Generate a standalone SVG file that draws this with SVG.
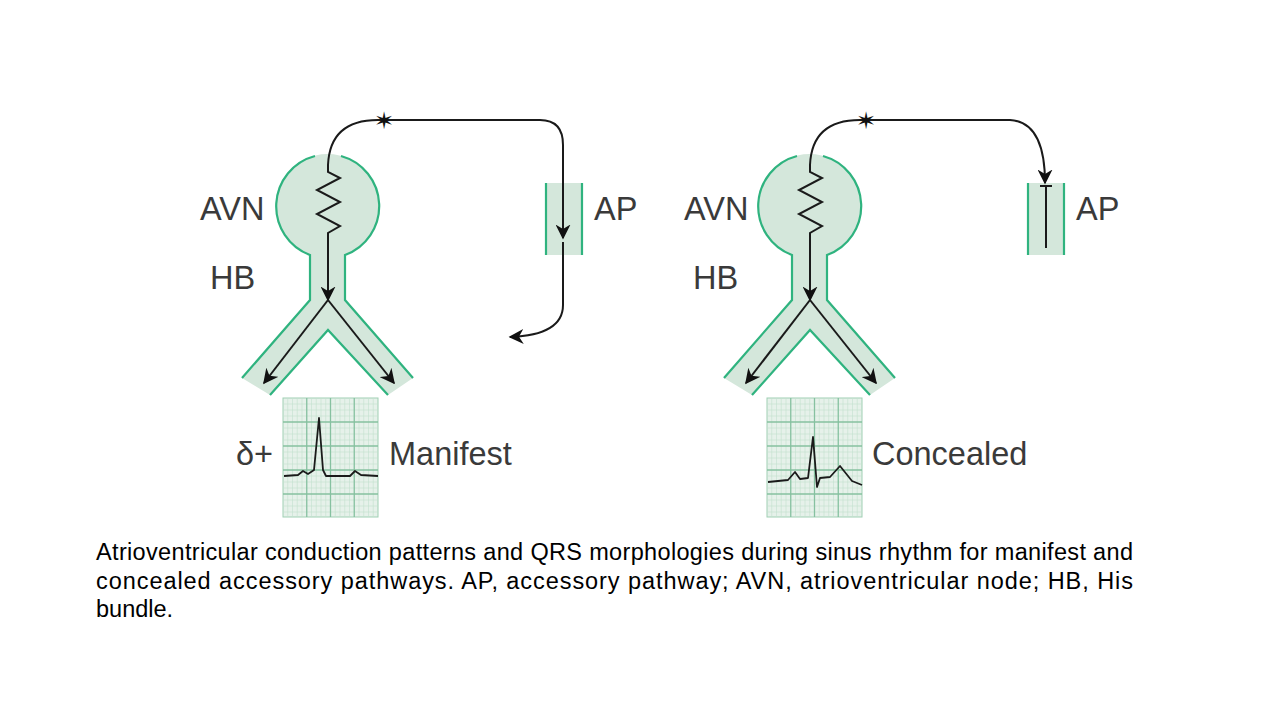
<svg xmlns="http://www.w3.org/2000/svg" width="1280" height="720" viewBox="0 0 1280 720">
<defs>
<style>
.body{fill:#d4e7db;stroke:none}
.edge{fill:none;stroke:#2fb37f;stroke-width:2.2}
.ln{fill:none;stroke:#1a1a1a;stroke-width:2}
.lbl{font-family:"Liberation Sans",Arial,sans-serif;font-size:32.5px;fill:#3a3a3a}
.cap{font-family:"Liberation Sans",Arial,sans-serif;font-size:23.5px;fill:#000}
.grid{fill:#e6f1ea;stroke:#9fcfb3;stroke-width:1}
.gmaj{stroke:#86c1a0;stroke-width:1.3}
.gmin{stroke:#c2e0ce;stroke-width:0.6}
.ecg{fill:none;stroke:#1a1a1a;stroke-width:1.8;stroke-linejoin:round}
</style>
<marker id="ahb" viewBox="0 0 10 10" refX="9" refY="5" markerWidth="15" markerHeight="15" orient="auto" markerUnits="userSpaceOnUse">
<path d="M0,0 L10,5 L0,10 L3,5 Z" fill="#111"/>
</marker>
<g id="node-shape">
<path class="body" d="M310,255 A52,52 0 1 1 345,255 L345,300 L413,378 L388,395 L328,330 L270,395 L242,378 L310,300 Z"/>
<path class="edge" d="M315,156 A52,52 0 0 0 310,255 L310,300 L242,378"/>
<path class="edge" d="M341,156 A52,52 0 0 1 345,255 L345,300 L413,378"/>
<path class="edge" d="M270,395 L328,330 L388,395"/>
</g>
<g id="node-ap">
<rect x="546" y="183" width="36" height="72" class="body"/>
<path class="edge" d="M546,183 V255 M582,183 V255"/>
</g>
<g id="node-grid">
<rect x="0" y="0" width="95" height="119" class="grid"/>
<path class="gmin" d="M4.75,0V119M9.5,0V119M14.25,0V119M19,0V119M28.5,0V119M33.25,0V119M38,0V119M42.75,0V119M52.25,0V119M57,0V119M61.75,0V119M66.5,0V119M76,0V119M80.75,0V119M85.5,0V119M90.25,0V119
M0,6H95M0,12H95M0,18H95M0,30H95M0,36H95M0,42H95M0,54H95M0,60H95M0,66H95M0,78H95M0,84H95M0,90H95M0,102H95M0,108H95M0,114H95"/>
<path class="gmaj" d="M23.75,0V119M47.5,0V119M71.25,0V119M0,24H95M0,48H95M0,72H95M0,96H95"/>
</g>
</defs>

<g id="left-avn"><use href="#node-shape"/></g>
<g id="left-ap"><use href="#node-ap"/></g>
<g id="left-ecg">
<use href="#node-grid" x="283" y="398"/>
<path class="ecg" d="M284,476 L298,475 L303,471 L308,474 L314,470 L319,418 L323,470 L326,476 L350,476 L355,471 L361,475 L378,476"/>
</g>

<g id="right-avn"><use href="#node-shape" x="482"/></g>
<g id="right-ap"><use href="#node-ap" x="482"/></g>
<g id="right-ecg">
<use href="#node-grid" x="767" y="398"/>
<path class="ecg" d="M768,482 L788,480 L795,472 L800,479 L808,478 L813,437 L817,487 L820,478 L830,477 L840,466 L852,481 L862,485"/>
</g>

<g id="connectors">
<path class="ln" d="M382,120 Q330,118 328,165 L328,172 L340,178 L317,190 L340,202 L317,214 L340,226 L328,233 L328,300" marker-end="url(#ahb)"/>
<path class="ln" d="M328,300 L264,383" marker-end="url(#ahb)"/>
<path class="ln" d="M328,300 L394,383" marker-end="url(#ahb)"/>
<path class="ln" d="M384,120 L540,120 Q563,120 563,145 L563,238" marker-end="url(#ahb)"/>
<path class="ln" d="M563,242 L563,305 Q563,335 510,337" marker-end="url(#ahb)"/>
<path class="ln" d="M864,120 Q812,118 810,165 L810,172 L822,178 L799,190 L822,202 L799,214 L822,226 L810,233 L810,300" marker-end="url(#ahb)"/>
<path class="ln" d="M810,300 L746,383" marker-end="url(#ahb)"/>
<path class="ln" d="M810,300 L876,383" marker-end="url(#ahb)"/>
<path class="ln" d="M866,120 L1010,120 Q1045,122 1045,183" marker-end="url(#ahb)"/>
<path class="ln" d="M1040,186 H1052 M1046,186 V248"/>
</g>

<g id="stars" font-family="DejaVu Sans,sans-serif" font-size="24" text-anchor="middle" fill="#111">
<text x="384" y="129">✶</text>
<text x="866" y="129">✶</text>
</g>

<g id="labels">
<text class="lbl" x="200" y="220">AVN</text>
<text class="lbl" x="210" y="289">HB</text>
<text class="lbl" x="594" y="220">AP</text>
<text class="lbl" x="236" y="465">δ+</text>
<text class="lbl" x="389" y="465">Manifest</text>
<text class="lbl" x="684" y="220">AVN</text>
<text class="lbl" x="693" y="289">HB</text>
<text class="lbl" x="1076" y="220">AP</text>
<text class="lbl" x="872" y="465">Concealed</text>
</g>

<g id="caption">
<text class="cap" x="96" y="560" textLength="1037" lengthAdjust="spacing">Atrioventricular conduction patterns and QRS morphologies during sinus rhythm for manifest and</text>
<text class="cap" x="96" y="589" textLength="1037" lengthAdjust="spacing">concealed accessory pathways. AP, accessory pathway; AVN, atrioventricular node; HB, His</text>
<text class="cap" x="96" y="617">bundle.</text>
</g>
</svg>
